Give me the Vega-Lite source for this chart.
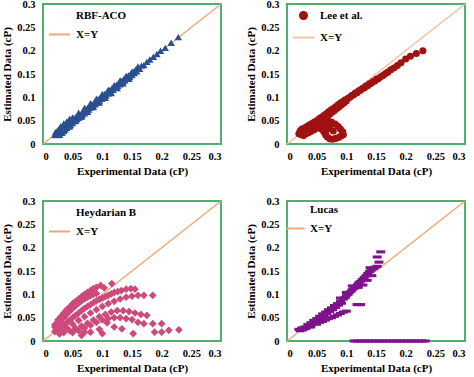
{
  "$schema": "https://vega.github.io/schema/vega-lite/v6.json",
  "padding": {"left": 0, "top": -2, "right": 0, "bottom": 0},
  "background": "white",
  "config": {
    "font": "Liberation Serif",
    "view": {"stroke": "#4fb06f", "strokeWidth": 2},
    "axis": {"grid": false, "domain": false, "ticks": false, "labelOverlap": false, "labelFont": "Liberation Serif", "labelFontWeight": "bold", "labelFontSize": 10.5, "labelColor": "#000", "titleFont": "Liberation Serif", "titleFontWeight": "bold", "titleFontSize": 11, "titleColor": "#000"},
    "axisX": {"labelPadding": 7, "titlePadding": 4},
    "axisY": {"labelPadding": 8, "titlePadding": 4},
    "legend": {"orient": "top-left", "offset": 6, "padding": 0, "title": null, "labelFont": "Liberation Serif", "labelFontWeight": "bold", "labelFontSize": 11, "labelColor": "#000", "symbolSize": 441, "symbolOffset": 5, "rowPadding": 7, "labelOffset": 11}
  },
  "datasets": {
    "diag": [{"x": 0, "y": 0}, {"x": 0.3, "y": 0.3}],
    "rbf": [
      {"x":0.02,"y":0.02},{"x":0.021,"y":0.025},{"x":0.023,"y":0.019},{"x":0.024,"y":0.028},{"x":0.025,"y":0.022},{"x":0.026,"y":0.031},{"x":0.027,"y":0.025},{"x":0.028,"y":0.02},{"x":0.029,"y":0.034},{"x":0.03,"y":0.027},{"x":0.031,"y":0.031},{"x":0.032,"y":0.024},{"x":0.033,"y":0.036},{"x":0.034,"y":0.029},{"x":0.035,"y":0.033},{"x":0.036,"y":0.041},{"x":0.037,"y":0.031},{"x":0.038,"y":0.037},{"x":0.039,"y":0.044},{"x":0.04,"y":0.035},{"x":0.041,"y":0.04},{"x":0.042,"y":0.047},{"x":0.043,"y":0.038},{"x":0.044,"y":0.043},{"x":0.045,"y":0.05},{"x":0.046,"y":0.041},{"x":0.047,"y":0.047},{"x":0.048,"y":0.052},{"x":0.05,"y":0.045},{"x":0.051,"y":0.05},{"x":0.052,"y":0.055},{"x":0.054,"y":0.05},{"x":0.055,"y":0.057},{"x":0.057,"y":0.053},{"x":0.058,"y":0.06},{"x":0.06,"y":0.056},{"x":0.061,"y":0.063},{"x":0.063,"y":0.059},{"x":0.065,"y":0.066},{"x":0.066,"y":0.062},{"x":0.068,"y":0.07},{"x":0.07,"y":0.066},{"x":0.072,"y":0.074},{"x":0.074,"y":0.071},{"x":0.075,"y":0.077},{"x":0.077,"y":0.074},{"x":0.079,"y":0.081},{"x":0.08,"y":0.078},{"x":0.082,"y":0.085},{"x":0.084,"y":0.082},{"x":0.086,"y":0.088},{"x":0.088,"y":0.085},{"x":0.09,"y":0.092},{"x":0.091,"y":0.089},{"x":0.093,"y":0.096},{"x":0.095,"y":0.093},{"x":0.097,"y":0.1},{"x":0.099,"y":0.097},{"x":0.1,"y":0.102},{"x":0.102,"y":0.1},{"x":0.104,"y":0.107},{"x":0.106,"y":0.104},{"x":0.108,"y":0.111},{"x":0.11,"y":0.108},{"x":0.112,"y":0.115},{"x":0.114,"y":0.112},{"x":0.116,"y":0.119},{"x":0.118,"y":0.116},{"x":0.12,"y":0.123},{"x":0.122,"y":0.12},{"x":0.124,"y":0.127},{"x":0.126,"y":0.124},{"x":0.128,"y":0.131},{"x":0.13,"y":0.128},{"x":0.132,"y":0.135},{"x":0.134,"y":0.133},{"x":0.136,"y":0.139},{"x":0.138,"y":0.136},{"x":0.14,"y":0.142},{"x":0.142,"y":0.14},{"x":0.144,"y":0.147},{"x":0.146,"y":0.144},{"x":0.148,"y":0.15},{"x":0.15,"y":0.148},{"x":0.152,"y":0.155},{"x":0.154,"y":0.152},{"x":0.156,"y":0.159},{"x":0.158,"y":0.156},{"x":0.16,"y":0.163},{"x":0.163,"y":0.161},{"x":0.166,"y":0.168},{"x":0.17,"y":0.169},{"x":0.175,"y":0.176},{"x":0.18,"y":0.181},{"x":0.186,"y":0.187},{"x":0.192,"y":0.193},{"x":0.198,"y":0.2},{"x":0.206,"y":0.206},{"x":0.216,"y":0.217},{"x":0.228,"y":0.229},
      {"x":0.03,"y":0.038},{"x":0.035,"y":0.044},{"x":0.04,"y":0.048},{"x":0.045,"y":0.054},{"x":0.05,"y":0.057},{"x":0.06,"y":0.067},{"x":0.07,"y":0.077},{"x":0.08,"y":0.087},{"x":0.09,"y":0.097},{"x":0.1,"y":0.107},{"x":0.11,"y":0.116},{"x":0.12,"y":0.126},{"x":0.13,"y":0.136},{"x":0.14,"y":0.146},{"x":0.15,"y":0.155},{"x":0.16,"y":0.166},
      {"x":0.035,"y":0.028},{"x":0.045,"y":0.038},{"x":0.055,"y":0.049},{"x":0.065,"y":0.059},{"x":0.075,"y":0.069},{"x":0.085,"y":0.079},{"x":0.095,"y":0.089},{"x":0.105,"y":0.099},{"x":0.115,"y":0.109},{"x":0.125,"y":0.12},{"x":0.135,"y":0.13},{"x":0.145,"y":0.14}
    ],
    "lee": [
      {"x":0.02,"y":0.022},{"x":0.022,"y":0.028},{"x":0.024,"y":0.02},{"x":0.025,"y":0.032},{"x":0.027,"y":0.025},{"x":0.028,"y":0.018},{"x":0.03,"y":0.035},{"x":0.031,"y":0.029},{"x":0.032,"y":0.022},{"x":0.034,"y":0.038},{"x":0.035,"y":0.031},{"x":0.036,"y":0.024},{"x":0.038,"y":0.041},{"x":0.039,"y":0.034},{"x":0.04,"y":0.027},{"x":0.042,"y":0.044},{"x":0.043,"y":0.037},{"x":0.045,"y":0.03},{"x":0.046,"y":0.047},{"x":0.047,"y":0.04},{"x":0.05,"y":0.05},{"x":0.05,"y":0.034},{"x":0.052,"y":0.044},{"x":0.054,"y":0.054},{"x":0.056,"y":0.048},{"x":0.058,"y":0.057},{"x":0.06,"y":0.052},{"x":0.062,"y":0.061},{"x":0.064,"y":0.056},{"x":0.066,"y":0.065},{"x":0.068,"y":0.06},{"x":0.07,"y":0.069},{"x":0.072,"y":0.064},{"x":0.074,"y":0.073},{"x":0.076,"y":0.068},{"x":0.078,"y":0.076},{"x":0.08,"y":0.072},{"x":0.082,"y":0.08},{"x":0.084,"y":0.076},{"x":0.086,"y":0.084},{"x":0.088,"y":0.08},{"x":0.09,"y":0.088},{"x":0.092,"y":0.084},{"x":0.094,"y":0.091},{"x":0.096,"y":0.088},{"x":0.098,"y":0.095},{"x":0.1,"y":0.092},{"x":0.103,"y":0.098},{"x":0.106,"y":0.1},{"x":0.109,"y":0.104},{"x":0.112,"y":0.105},{"x":0.115,"y":0.109},{"x":0.118,"y":0.11},{"x":0.121,"y":0.114},{"x":0.124,"y":0.115},{"x":0.127,"y":0.119},{"x":0.13,"y":0.12},{"x":0.133,"y":0.124},{"x":0.136,"y":0.125},{"x":0.139,"y":0.129},{"x":0.142,"y":0.13},{"x":0.145,"y":0.134},{"x":0.148,"y":0.135},{"x":0.151,"y":0.139},{"x":0.154,"y":0.14},{"x":0.158,"y":0.144},{"x":0.162,"y":0.147},{"x":0.166,"y":0.151},{"x":0.17,"y":0.154},{"x":0.175,"y":0.159},{"x":0.18,"y":0.163},{"x":0.186,"y":0.168},{"x":0.192,"y":0.174},{"x":0.2,"y":0.182},{"x":0.208,"y":0.188},{"x":0.218,"y":0.194},{"x":0.229,"y":0.2},
      {"x":0.055,"y":0.038},{"x":0.058,"y":0.032},{"x":0.062,"y":0.026},{"x":0.065,"y":0.02},{"x":0.068,"y":0.015},{"x":0.072,"y":0.011},{"x":0.077,"y":0.01},{"x":0.082,"y":0.012},{"x":0.087,"y":0.014},{"x":0.091,"y":0.017},{"x":0.095,"y":0.02},{"x":0.094,"y":0.026},{"x":0.09,"y":0.032},{"x":0.086,"y":0.038},{"x":0.081,"y":0.043},{"x":0.075,"y":0.047},{"x":0.069,"y":0.05},{"x":0.063,"y":0.048},{"x":0.068,"y":0.04},{"x":0.072,"y":0.034},{"x":0.066,"y":0.03},{"x":0.078,"y":0.028},{"x":0.06,"y":0.042}
    ],
    "hey": [
      {"x":0.02,"y":0.035},{"x":0.025,"y":0.045},{"x":0.03,"y":0.052},{"x":0.035,"y":0.06},{"x":0.04,"y":0.067},{"x":0.045,"y":0.073},{"x":0.05,"y":0.08},{"x":0.055,"y":0.085},{"x":0.06,"y":0.09},{"x":0.065,"y":0.095},{"x":0.07,"y":0.1},{"x":0.075,"y":0.104},{"x":0.08,"y":0.108},{"x":0.085,"y":0.112},{"x":0.09,"y":0.115},{"x":0.097,"y":0.119},{"x":0.103,"y":0.114},{"x":0.116,"y":0.123},
      {"x":0.025,"y":0.035},{"x":0.03,"y":0.043},{"x":0.035,"y":0.05},{"x":0.04,"y":0.057},{"x":0.045,"y":0.064},{"x":0.05,"y":0.07},{"x":0.055,"y":0.076},{"x":0.06,"y":0.081},{"x":0.065,"y":0.086},{"x":0.07,"y":0.09},{"x":0.075,"y":0.094},{"x":0.08,"y":0.097},{"x":0.085,"y":0.1},{"x":0.09,"y":0.102},
      {"x":0.025,"y":0.02},{"x":0.03,"y":0.027},{"x":0.035,"y":0.033},{"x":0.04,"y":0.039},{"x":0.045,"y":0.045},{"x":0.05,"y":0.05},{"x":0.055,"y":0.055},{"x":0.06,"y":0.06},{"x":0.065,"y":0.065},{"x":0.07,"y":0.07},{"x":0.075,"y":0.074},{"x":0.08,"y":0.078},{"x":0.085,"y":0.082},{"x":0.09,"y":0.086},{"x":0.095,"y":0.089},{"x":0.1,"y":0.092},{"x":0.105,"y":0.095},{"x":0.11,"y":0.098},{"x":0.115,"y":0.101},{"x":0.12,"y":0.104},{"x":0.126,"y":0.106},{"x":0.132,"y":0.108},{"x":0.14,"y":0.111},{"x":0.148,"y":0.112},{"x":0.155,"y":0.111},
      {"x":0.03,"y":0.02},{"x":0.04,"y":0.028},{"x":0.05,"y":0.036},{"x":0.06,"y":0.044},{"x":0.07,"y":0.052},{"x":0.08,"y":0.06},{"x":0.09,"y":0.067},{"x":0.1,"y":0.074},{"x":0.11,"y":0.08},{"x":0.12,"y":0.085},{"x":0.13,"y":0.09},{"x":0.14,"y":0.094},{"x":0.15,"y":0.096},{"x":0.16,"y":0.098},{"x":0.17,"y":0.098},{"x":0.185,"y":0.098},
      {"x":0.035,"y":0.018},{"x":0.045,"y":0.022},{"x":0.055,"y":0.027},{"x":0.065,"y":0.032},{"x":0.075,"y":0.038},{"x":0.085,"y":0.045},{"x":0.095,"y":0.052},{"x":0.105,"y":0.057},{"x":0.115,"y":0.062},{"x":0.125,"y":0.065},{"x":0.135,"y":0.065},{"x":0.145,"y":0.063},{"x":0.155,"y":0.06},{"x":0.165,"y":0.057},{"x":0.175,"y":0.055},
      {"x":0.05,"y":0.018},{"x":0.06,"y":0.022},{"x":0.07,"y":0.028},{"x":0.08,"y":0.034},{"x":0.09,"y":0.04},{"x":0.1,"y":0.045},{"x":0.11,"y":0.048},{"x":0.12,"y":0.05},{"x":0.13,"y":0.05},{"x":0.14,"y":0.048},{"x":0.15,"y":0.046},{"x":0.16,"y":0.04},{"x":0.17,"y":0.037},{"x":0.185,"y":0.037},{"x":0.2,"y":0.037},
      {"x":0.07,"y":0.019},{"x":0.08,"y":0.019},{"x":0.1,"y":0.016},{"x":0.095,"y":0.025},{"x":0.108,"y":0.039},{"x":0.133,"y":0.026},{"x":0.152,"y":0.016},{"x":0.188,"y":0.019},{"x":0.2,"y":0.019},{"x":0.212,"y":0.023},{"x":0.229,"y":0.024},{"x":0.12,"y":0.03},{"x":0.065,"y":0.012},
      {"x":0.02,"y":0.02},{"x":0.022,"y":0.025},{"x":0.025,"y":0.028},{"x":0.02,"y":0.03},{"x":0.03,"y":0.035},{"x":0.028,"y":0.015},{"x":0.033,"y":0.024}
    ],
    "luc": [
      {"x":0.02,"y":0.025},{"x":0.022,"y":0.022},{"x":0.025,"y":0.028},{"x":0.027,"y":0.024},{"x":0.03,"y":0.03},{"x":0.032,"y":0.027},{"x":0.035,"y":0.035},{"x":0.037,"y":0.031},{"x":0.04,"y":0.039},{"x":0.042,"y":0.035},{"x":0.045,"y":0.044},{"x":0.047,"y":0.04},{"x":0.05,"y":0.048},{"x":0.052,"y":0.044},{"x":0.055,"y":0.053},{"x":0.057,"y":0.049},{"x":0.06,"y":0.058},{"x":0.062,"y":0.054},{"x":0.065,"y":0.062},{"x":0.067,"y":0.058},{"x":0.07,"y":0.067},{"x":0.072,"y":0.063},{"x":0.075,"y":0.071},{"x":0.077,"y":0.067},{"x":0.08,"y":0.076},{"x":0.082,"y":0.072},{"x":0.085,"y":0.08},{"x":0.087,"y":0.077},{"x":0.09,"y":0.085},{"x":0.092,"y":0.081},{"x":0.095,"y":0.09},{"x":0.098,"y":0.093},{"x":0.1,"y":0.097},{"x":0.103,"y":0.1},{"x":0.105,"y":0.104},{"x":0.108,"y":0.107},{"x":0.11,"y":0.11},{"x":0.113,"y":0.113},{"x":0.116,"y":0.117},{"x":0.119,"y":0.121},{"x":0.121,"y":0.125},{"x":0.124,"y":0.128},{"x":0.127,"y":0.132},{"x":0.13,"y":0.136},{"x":0.133,"y":0.14},{"x":0.136,"y":0.145},{"x":0.139,"y":0.149},{"x":0.142,"y":0.152},{"x":0.145,"y":0.155},{"x":0.148,"y":0.158},{"x":0.152,"y":0.16},{"x":0.155,"y":0.169},{"x":0.152,"y":0.18},{"x":0.158,"y":0.191},{"x":0.128,"y":0.12},{"x":0.12,"y":0.115},{"x":0.135,"y":0.13},{"x":0.143,"y":0.14},{"x":0.14,"y":0.157},{"x":0.147,"y":0.157},{"x":0.09,"y":0.092},{"x":0.1,"y":0.104},{"x":0.11,"y":0.118},
      {"x":0.04,"y":0.03},{"x":0.05,"y":0.036},{"x":0.06,"y":0.042},{"x":0.07,"y":0.048},{"x":0.08,"y":0.053},{"x":0.085,"y":0.056},{"x":0.09,"y":0.059},{"x":0.095,"y":0.062},{"x":0.1,"y":0.064},{"x":0.055,"y":0.04},{"x":0.065,"y":0.045},{"x":0.075,"y":0.05},
      {"x":0.118,"y":0.078},{"x":0.124,"y":0.078},
      {"x":0.113,"y":0},{"x":0.119,"y":0},{"x":0.125,"y":0},{"x":0.131,"y":0},{"x":0.137,"y":0},{"x":0.143,"y":0},{"x":0.149,"y":0},{"x":0.155,"y":0},{"x":0.161,"y":0},{"x":0.167,"y":0},{"x":0.173,"y":0},{"x":0.179,"y":0},{"x":0.185,"y":0},{"x":0.191,"y":0},{"x":0.197,"y":0},{"x":0.203,"y":0},{"x":0.209,"y":0},{"x":0.215,"y":0},{"x":0.221,"y":0},{"x":0.227,"y":0},{"x":0.233,"y":0}
    ]
  },
  "columns": 2,
  "spacing": {"row": 57, "column": 66},
  "bounds": "flush",
  "resolve": {"scale": {"color": "independent"}, "legend": {"color": "independent"}},
  "concat": [
    {
      "width": 178, "height": 140,
      "encoding": {
        "x": {"field": "x", "type": "quantitative", "scale": {"domain": [0, 0.3], "nice": false}, "axis": {"title": "Experimental Data (cP)", "values": [0, 0.05, 0.1, 0.15, 0.2, 0.25, 0.3], "format": "~g", "labelOverlap": false}},
        "y": {"field": "y", "type": "quantitative", "scale": {"domain": [0, 0.3], "nice": false}, "axis": {"title": "Estimated Data (cP)", "values": [0, 0.05, 0.1, 0.15, 0.2, 0.25, 0.3], "format": "~g", "labelOverlap": false}}
      },
      "layer": [
        {"data": {"name": "diag"}, "mark": {"type": "line", "strokeWidth": 1.5},
         "encoding": {
           "color": {"datum": "X=Y", "type": "nominal", "scale": {"domain": ["RBF-ACO", "X=Y"], "range": ["#2b4f8f", "#f0a878"]},
             "legend": {"encode": {"symbols": {"update": {
               "shape": {"signal": "datum.value === 'X=Y' ? 'stroke' : 'triangle-up'"},
               "fill": {"signal": "datum.value === 'X=Y' ? 'transparent' : '#2b4f8f'"},
               "stroke": {"signal": "datum.value === 'X=Y' ? '#f0a878' : 'transparent'"},
               "strokeWidth": {"value": 2},
               "size": {"signal": "datum.value === 'X=Y' ? 441 : 0"},
               "opacity": {"value": 1}}}}}}}},
        {"data": {"name": "rbf"}, "mark": {"type": "point", "shape": "triangle-up", "filled": true, "size": 55, "opacity": 1},
         "encoding": {"color": {"datum": "RBF-ACO", "type": "nominal"}}}
      ]
    },
    {
      "width": 178, "height": 140,
      "encoding": {
        "x": {"field": "x", "type": "quantitative", "scale": {"domain": [0, 0.3], "nice": false}, "axis": {"title": "Experimental Data (cP)", "values": [0, 0.05, 0.1, 0.15, 0.2, 0.25, 0.3], "format": "~g", "labelOverlap": false}},
        "y": {"field": "y", "type": "quantitative", "scale": {"domain": [0, 0.3], "nice": false}, "axis": {"title": "Estimated Data (cP)", "values": [0, 0.05, 0.1, 0.15, 0.2, 0.25, 0.3], "format": "~g", "labelOverlap": false}}
      },
      "layer": [
        {"data": {"name": "diag"}, "mark": {"type": "line", "strokeWidth": 1.5},
         "encoding": {
           "color": {"datum": "X=Y", "type": "nominal", "scale": {"domain": ["Lee et al.", "X=Y"], "range": ["#a01212", "#f4c0a0"]},
             "legend": {"encode": {"symbols": {"update": {
               "shape": {"signal": "datum.value === 'X=Y' ? 'stroke' : 'circle'"},
               "fill": {"signal": "datum.value === 'X=Y' ? 'transparent' : '#a01212'"},
               "stroke": {"signal": "datum.value === 'X=Y' ? '#f4c0a0' : 'transparent'"},
               "strokeWidth": {"value": 2},
               "size": {"signal": "datum.value === 'X=Y' ? 441 : 50"},
               "opacity": {"value": 1}}}}}}}},
        {"data": {"name": "lee"}, "mark": {"type": "point", "shape": "circle", "filled": true, "size": 50, "opacity": 1},
         "encoding": {"color": {"datum": "Lee et al.", "type": "nominal"}}}
      ]
    },
    {
      "width": 178, "height": 140,
      "encoding": {
        "x": {"field": "x", "type": "quantitative", "scale": {"domain": [0, 0.3], "nice": false}, "axis": {"title": "Experimental Data (cP)", "values": [0, 0.05, 0.1, 0.15, 0.2, 0.25, 0.3], "format": "~g", "labelOverlap": false}},
        "y": {"field": "y", "type": "quantitative", "scale": {"domain": [0, 0.3], "nice": false}, "axis": {"title": "Estimated Data (cP)", "values": [0, 0.05, 0.1, 0.15, 0.2, 0.25, 0.3], "format": "~g", "labelOverlap": false}}
      },
      "layer": [
        {"data": {"name": "diag"}, "mark": {"type": "line", "strokeWidth": 1.5},
         "encoding": {
           "color": {"datum": "X=Y", "type": "nominal", "scale": {"domain": ["Heydarian B", "X=Y"], "range": ["#cc4a7c", "#f0a878"]},
             "legend": {"encode": {"symbols": {"update": {
               "shape": {"signal": "datum.value === 'X=Y' ? 'stroke' : 'diamond'"},
               "fill": {"signal": "datum.value === 'X=Y' ? 'transparent' : '#cc4a7c'"},
               "stroke": {"signal": "datum.value === 'X=Y' ? '#f0a878' : 'transparent'"},
               "strokeWidth": {"value": 2},
               "size": {"signal": "datum.value === 'X=Y' ? 441 : 0"},
               "opacity": {"value": 1}}}}}}}},
        {"data": {"name": "hey"}, "mark": {"type": "point", "shape": "diamond", "filled": true, "size": 60, "opacity": 1},
         "encoding": {"color": {"datum": "Heydarian B", "type": "nominal"}}}
      ]
    },
    {
      "width": 178, "height": 140,
      "encoding": {
        "x": {"field": "x", "type": "quantitative", "scale": {"domain": [0, 0.3], "nice": false}, "axis": {"title": "Experimental Data (cP)", "values": [0, 0.05, 0.1, 0.15, 0.2, 0.25, 0.3], "format": "~g", "labelOverlap": false}},
        "y": {"field": "y", "type": "quantitative", "scale": {"domain": [0, 0.3], "nice": false}, "axis": {"title": "Estimated Data (cP)", "values": [0, 0.05, 0.1, 0.15, 0.2, 0.25, 0.3], "format": "~g", "labelOverlap": false}}
      },
      "layer": [
        {"data": {"name": "diag"}, "mark": {"type": "line", "strokeWidth": 1.5},
         "encoding": {
           "color": {"datum": "X=Y", "type": "nominal", "scale": {"domain": ["Lucas", "X=Y"], "range": ["#7d138a", "#f0a878"]},
             "legend": {"offset": 3, "symbolOffset": 0, "symbolSize": 324, "labelOffset": 9, "encode": {"symbols": {"update": {
               "shape": {"signal": "datum.value === 'X=Y' ? 'stroke' : 'square'"},
               "fill": {"signal": "datum.value === 'X=Y' ? 'transparent' : '#7d138a'"},
               "stroke": {"signal": "datum.value === 'X=Y' ? '#f0a878' : 'transparent'"},
               "strokeWidth": {"value": 2},
               "size": {"signal": "datum.value === 'X=Y' ? 324 : 0"},
               "opacity": {"value": 1}}}}}}}},
        {"data": {"name": "luc"}, "mark": {"type": "point", "shape": "M-1,-0.35L1,-0.35L1,0.35L-1,0.35Z", "filled": true, "size": 80, "opacity": 1},
         "encoding": {"color": {"datum": "Lucas", "type": "nominal"}}}
      ]
    }
  ]
}
